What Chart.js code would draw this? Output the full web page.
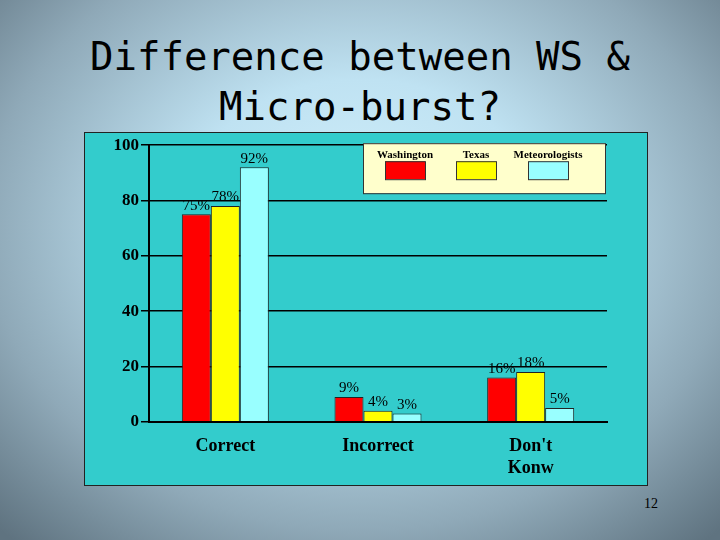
<!DOCTYPE html>
<html><head><meta charset="utf-8">
<script src="https://cdn.jsdelivr.net/npm/chart.js@4"></script>
<style>
html,body{margin:0;width:720px;height:540px;overflow:hidden;}
body{background:radial-gradient(ellipse 72% 78% at 50% 42%, #d2f0fc 0%, #bfe2f2 35%, #8fa9b8 72%, #5f7380 100%);position:relative;font-family:"DejaVu Sans Mono",monospace;}
#title{position:absolute;left:0;top:32px;width:720px;text-align:center;font-size:39px;line-height:50px;color:#000;}
#wrap{position:absolute;left:84px;top:132px;width:564px;height:354px;background:#33cccc;border:1px solid #222;box-sizing:border-box;}
#num{position:absolute;left:644px;top:496px;font-family:"Liberation Serif",serif;font-size:14px;}
</style></head><body>
<div id="title">Difference between WS &amp;<br>Micro-burst?</div>
<div id="wrap"><canvas id="c" width="562" height="352"></canvas></div>
<div id="num">12</div>
<script>
const categories=[["Correct"],["Incorrect"],["Don't","Konw"]];
const seriesNames=["Washington","Texas","Meteorologists"];
const washington=[75,9,16];
const texas=[78,4,18];
const meteorologists=[92,3,5];
const yTicks=[0,20,40,60,80,100];
const colors=["#ff0000","#ffff00","#99ffff"];
const serif='"Liberation Serif",serif';
const labelPlugin={id:'lbl',afterDatasetsDraw(ch){const c=ch.ctx;c.save();c.font='15px '+serif;c.fillStyle='#000';c.textAlign='center';c.textBaseline='bottom';
ch.data.datasets.forEach((ds,i)=>{ch.getDatasetMeta(i).data.forEach((b,j)=>{c.fillText(ds.data[j]+'%',b.x,b.y-1);});});c.restore();}};
const legendPlugin={id:'lg',afterDraw(ch){const c=ch.ctx,a=ch.chartArea;c.save();const x=a.left+214,y=a.top-2,w=242,h=50;
c.fillStyle='#ffffcc';c.fillRect(x,y,w,h);c.strokeStyle='#333';c.lineWidth=1;c.strokeRect(x+.5,y+.5,w,h);
c.font='bold 11px '+serif;c.fillStyle='#000';c.textAlign='center';c.textBaseline='middle';
const cx=[x+42,x+113,x+185];seriesNames.forEach((n,i)=>{c.fillText(n,cx[i],y+12);c.fillStyle=colors[i];c.fillRect(cx[i]-20,y+18,40,18);c.strokeRect(cx[i]-20+.5,y+18.5,40,18);c.fillStyle='#000';});c.restore();}};
new Chart(document.getElementById('c'),{type:'bar',
data:{labels:categories,datasets:[
{label:seriesNames[0],data:washington,backgroundColor:colors[0]},
{label:seriesNames[1],data:texas,backgroundColor:colors[1]},
{label:seriesNames[2],data:meteorologists,backgroundColor:colors[2]}].map(d=>Object.assign(d,{borderColor:'#222',borderWidth:1,categoryPercentage:0.57,barPercentage:1}))},
options:{responsive:false,animation:false,layout:{padding:{top:11,right:40,left:0,bottom:0}},
plugins:{legend:{display:false},tooltip:{enabled:false}},
scales:{y:{min:0,max:100,ticks:{stepSize:20,color:'#000',font:{family:serif,size:17,weight:'bold'},padding:2},afterFit(s){s.width=64;},
grid:{color:'#000',lineWidth:1.5,drawTicks:true,tickLength:8},border:{color:'#000',width:2}},
x:{ticks:{color:'#000',font:{family:serif,size:18,weight:'bold'},padding:6},grid:{display:false},border:{color:'#000',width:2}}}},
plugins:[labelPlugin,legendPlugin]});
</script></body></html>
